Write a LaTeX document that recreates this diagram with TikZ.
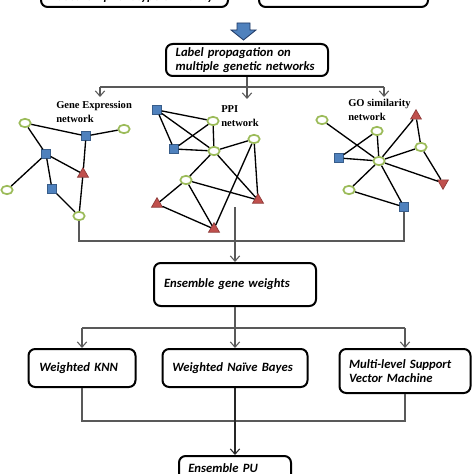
\documentclass[tikz,border=0pt]{standalone}
\usepackage{fontspec}
\newfontfamily\cfont{Carlito}
\newfontfamily\tfont{Liberation Serif}
\usetikzlibrary{arrows.meta,shapes.geometric}
\definecolor{gnode}{HTML}{9BBB59}
\definecolor{bnode}{HTML}{4F81BD}
\definecolor{bedge}{HTML}{385D8A}
\definecolor{rnode}{HTML}{C0504D}
\definecolor{redge}{HTML}{8C3836}
\definecolor{barrow}{HTML}{1F3864}
\begin{document}
\begin{tikzpicture}[x=0.75pt,y=-0.75pt,
  box/.style={draw=black,line width=1.5pt,rounded corners=5pt,fill=white,
    font=\cfont\bfseries\itshape\fontsize{9.5}{11}\selectfont,align=left,
    inner xsep=7pt,inner ysep=0pt},
  netlab/.style={font=\tfont\bfseries\fontsize{7.9}{10.5}\selectfont,align=left,inner sep=0pt,anchor=north west},
  gc/.style={ellipse,draw=gnode,line width=1.3pt,fill=white,minimum width=8.5pt,minimum height=6.3pt,inner sep=0pt},
  bsq/.style={rectangle,draw=bedge,line width=0.5pt,fill=bnode,minimum size=6.5pt,inner sep=0pt},
  rtri/.style={regular polygon,regular polygon sides=3,draw=redge,line width=0.5pt,fill=rnode,minimum size=9.5pt,inner sep=0pt},
  ed/.style={draw=black,line width=1pt},
  conn/.style={draw=black!65,line width=0.8pt},
  carr/.style={conn,-{Straight Barb[length=4pt,width=7pt]}}]
\path[use as bounding box] (0,0) rectangle (474,474);
\clip (0,0) rectangle (474,474);

% top boxes
\node[box,anchor=south,minimum width=140.25pt,text width=126pt,text height=22pt,text depth=3pt,inner ysep=1.5pt] (tl) at (134.5,8) {Based on phenotype similarity};
\node[box,anchor=south,minimum width=126.75pt,minimum height=28.5pt] (tr) at (343.5,8) {};

% blue block arrow
\filldraw[fill=bnode,draw=barrow,line width=0.6pt] (237,23) -- (250,23) -- (250,30) -- (256,30) -- (243.5,40) -- (231,30) -- (237,30) -- cycle;

% label propagation
\node[box,minimum width=121.5pt,minimum height=24pt,text width=107pt] (lp) at (247,60) {Label propagation on\\multiple genetic networks};

\coordinate (j1) at (247,87);
\coordinate (jl) at (100,87);
\coordinate (jr) at (384,87);
\coordinate (al) at (100,97);
\coordinate (am) at (247,99);
\coordinate (ar) at (384,97);
\draw[conn] (lp) -- (j1);
\draw[conn] (jl) -- (jr);
\draw[carr] (jl) -- (al);
\draw[carr] (j1) -- (am);
\draw[carr] (jr) -- (ar);

% Gene expression network
\node[netlab] (gelab) at (56,101) {Gene Expression\\network};
\node[gc] (a) at (25,123) {};
\node[bsq] (b) at (86,136) {};
\node[gc] (c) at (124,129) {};
\node[bsq] (d) at (46,154) {};
\node[rtri] (e) at (83,174) {};
\node[gc] (f) at (7,190) {};
\node[bsq] (g) at (52,189) {};
\node[gc] (h) at (79,216) {};
\draw[ed] (a) -- (b) (b) -- (c) (a) -- (d) (d) -- (e) (d) -- (f) (d) -- (g) (g) -- (h) (b) -- (e) (e) -- (h);

% PPI network
\node[netlab] (ppilab) at (221,105) {PPI\\network};
\node[bsq] (p1) at (157,110) {};
\node[gc] (p2) at (213,121) {};
\node[bsq] (p3) at (174,149) {};
\node[gc] (p4) at (214,151) {};
\node[gc] (p5) at (254,139) {};
\node[gc] (p6) at (186,180) {};
\node[rtri] (p7) at (157,204) {};
\node[rtri] (p8) at (214,229) {};
\node[rtri] (p9) at (258,200) {};
\draw[ed] (p1) -- (p2) (p1) -- (p3) (p1) -- (p4) (p3) -- (p2) (p3) -- (p4) (p2) -- (p4)
  (p4) -- (p5) (p4) -- (p6) (p4) -- (p9) (p5) -- (p9) (p5) -- (p8) (p6) -- (p7)
  (p6) -- (p8) (p6) -- (p9) (p7) -- (p8);

% GO similarity network
\node[netlab] (golab) at (348,99) {GO similarity\\network};
\node[gc] (q1) at (322,120) {};
\node[gc] (q2) at (377,131) {};
\node[bsq] (q3) at (339,158) {};
\node[gc] (q4) at (379,161) {};
\node[rtri] (q5) at (416,116) {};
\node[gc] (q6) at (421,147) {};
\node[rtri,shape border rotate=180] (q7) at (443,183) {};
\node[gc] (q8) at (349,190) {};
\node[bsq] (q9) at (404,207) {};
\draw[ed] (q1) -- (q4) (q2) -- (q3) (q2) -- (q4) (q3) -- (q4) (q4) -- (q5) (q4) -- (q6)
  (q4) -- (q7) (q4) -- (q8) (q4) -- (q9) (q8) -- (q9) (q5) -- (q6) (q6) -- (q7);

% collection
\coordinate (b1) at (79,241);
\coordinate (b2) at (404,241);
\coordinate (m1) at (235,207);
\draw[conn] (h) -- (b1) -- (b2) -- (q9);

\node[box,minimum width=121.5pt,minimum height=32.25pt,text width=106.5pt] (egw) at (235,284.5) {Ensemble gene weights};
\draw[carr] (m1) -- (egw);

\coordinate (j2) at (235,328);
\coordinate (j2l) at (82,328);
\coordinate (j2r) at (405,328);

\node[box,minimum width=80.25pt,minimum height=28.5pt,text width=64pt,inner xsep=8pt] (knn) at (82,368) {Weighted KNN};
\node[box,minimum width=108.75pt,minimum height=28.5pt,text width=94pt] (nb) at (235,368) {Weighted Na\"ive Bayes};
\node[box,minimum width=98.25pt,minimum height=33pt,text width=84pt] (svm) at (405,371) {Multi-level Support\\Vector Machine};

\draw[conn] (egw) -- (j2);
\draw[conn] (j2l) -- (j2r);
\draw[carr] (j2l) -- (knn);
\draw[carr] (j2) -- (nb);
\draw[carr] (j2r) -- (svm);

\coordinate (j3l) at (82,421);
\coordinate (j3r) at (405,421);
\draw[conn] (knn) -- (j3l) -- (j3r) -- (svm);

\node[box,anchor=north,minimum width=84pt,text width=70pt,text height=7.5pt,text depth=20pt,inner ysep=5pt] (pu) at (235,455) {Ensemble PU};
\draw[carr,draw=black!85] (nb) -- (pu);
\end{tikzpicture}
\end{document}
